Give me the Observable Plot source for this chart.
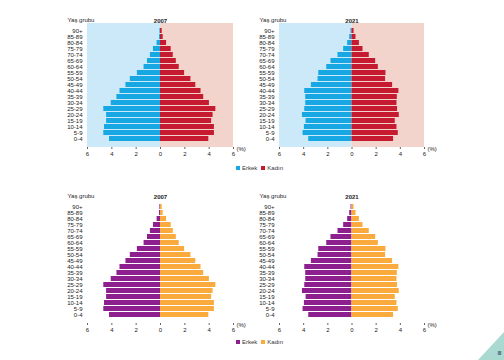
<!DOCTYPE html>
<html>
<head>
<meta charset="utf-8">
<script src="https://cdn.jsdelivr.net/npm/d3@7"></script>
<script src="https://cdn.jsdelivr.net/npm/@observablehq/plot@0.6"></script>
<style>
  html, body { margin: 0; padding: 0; background: #fff; }
  body { width: 504px; height: 360px; position: relative; overflow: hidden; font-family: "Liberation Sans", Arial, sans-serif; }
  .panel { position: absolute; }
  .legend { position: absolute; font-size: 6px; color: #333; white-space: nowrap; display: flex; align-items: center; }
  .legend .sw { display: inline-block; width: 4px; height: 4px; margin-right: 2px; }
  .legend .item { display: inline-flex; align-items: center; margin-right: 4px; }
  .corner { position: absolute; left: 478px; top: 332px; width: 26px; height: 28px; background: #a9d9d1; clip-path: polygon(100% 0, 100% 100%, 0 100%); }
  .corner span { position: absolute; right: 3px; bottom: 4px; font-size: 6px; color: #4a6b7a; font-weight: bold; letter-spacing: -0.5px; }
</style>
</head>
<body>
<script>
// Age groups (bottom to top)
const ages = ["0-4","5-9","10-14","15-19","20-24","25-29","30-34","35-39","40-44","45-49","50-54","55-59","60-64","65-69","70-74","75-79","80-84","85-89","90+"];
// Population share (%) by sex
const male2007   = [4.19,4.66,4.60,4.43,4.43,4.66,4.05,3.58,3.33,2.84,2.48,1.90,1.35,1.07,0.83,0.58,0.28,0.08,0.05];
const female2007 = [3.97,4.43,4.43,4.20,4.32,4.55,4.02,3.55,3.33,2.90,2.50,1.98,1.54,1.30,1.05,0.88,0.50,0.22,0.14];
const male2021   = [3.58,4.05,3.94,3.80,4.10,3.91,3.83,3.83,3.91,3.36,2.81,2.75,2.09,1.74,1.16,0.69,0.36,0.19,0.08];
const female2021 = [3.44,3.83,3.72,3.58,3.91,3.77,3.72,3.75,3.88,3.36,2.78,2.81,2.18,1.96,1.43,0.91,0.61,0.33,0.17];
const xTicks = [-6,-4,-2,0,2,4,6];
const sexLabels = ["Erkek","Kadın"];
const years = ["2007","2021"];

function makePanel(year, male, female, colors, bg, left, top, width, mLeft, mRight) {
  const rows = ages.map((a, i) => ({age: a, m: male[i], f: female[i]}));
  const marks = [];
  if (bg) {
    marks.push(Plot.rect([{x1: -6, x2: 0, c: bg[0]}, {x1: 0, x2: 6, c: bg[1]}], {x1: "x1", x2: "x2", fill: "c"}));
  }
  marks.push(
    Plot.barX(rows, {x1: 0, x2: d => -d.m, y: "age", fill: colors[0]}),
    Plot.barX(rows, {x1: 0, x2: d => d.f, y: "age", fill: colors[1]}),
    Plot.axisY({tickSize: 0, tickPadding: 5, label: null}),
    Plot.axisX({ticks: xTicks, tickFormat: d => Math.abs(d), tickSize: 2, tickPadding: 2, label: null, stroke: "#666"}),
    Plot.text(["Yaş grubu"], {frameAnchor: "top-left", dx: -20, dy: -6, textAnchor: "start", fill: "#222"}),
    Plot.text([year], {frameAnchor: "top", dy: -5, fontWeight: "bold", fill: "#222"}),
    Plot.text(["(%)"], {frameAnchor: "bottom-right", dx: 3, dy: 3, textAnchor: "start", fill: "#222"})
  );
  const svg = Plot.plot({
    width: width,
    height: 165,
    marginLeft: mLeft,
    marginRight: mRight,
    marginTop: 18,
    marginBottom: 23,
    x: {domain: [-6, 6]},
    y: {domain: ages.slice().reverse(), paddingInner: 0.14, paddingOuter: 0.05},
    style: {fontSize: "6px", fontFamily: "Liberation Sans, Arial, sans-serif", color: "#222", background: "transparent", overflow: "visible"},
    marks
  });
  const div = document.createElement("div");
  div.className = "panel";
  div.style.left = left + "px";
  div.style.top = top + "px";
  div.appendChild(svg);
  document.body.appendChild(div);
}

function makeLegend(colors, left, top) {
  const div = document.createElement("div");
  div.className = "legend";
  div.style.left = left + "px";
  div.style.top = top + "px";
  sexLabels.forEach((s, i) => {
    const it = document.createElement("span");
    it.className = "item";
    const sw = document.createElement("span");
    sw.className = "sw";
    sw.style.background = colors[i];
    it.appendChild(sw);
    it.appendChild(document.createTextNode(s));
    div.appendChild(it);
  });
  document.body.appendChild(div);
}

const topColors = ["#17a8e4", "#c51a30"];
const topBg = ["#cbe9f8", "#f3d4cd"];
const botColors = ["#8d1f8e", "#fbab3d"];

makePanel(years[0], male2007, female2007, topColors, topBg, 20, 5, 232, 67, 19);
makePanel(years[1], male2021, female2021, topColors, topBg, 252, 5, 200, 27, 28);
makePanel(years[0], male2007, female2007, botColors, null, 20, 181, 232, 67, 19);
makePanel(years[1], male2021, female2021, botColors, null, 252, 181, 200, 27, 28);

makeLegend(topColors, 236, 165);
makeLegend(botColors, 236, 339);

const corner = document.createElement("div");
corner.className = "corner";
corner.innerHTML = "<span>III</span>";
document.body.appendChild(corner);
</script>
</body>
</html>
